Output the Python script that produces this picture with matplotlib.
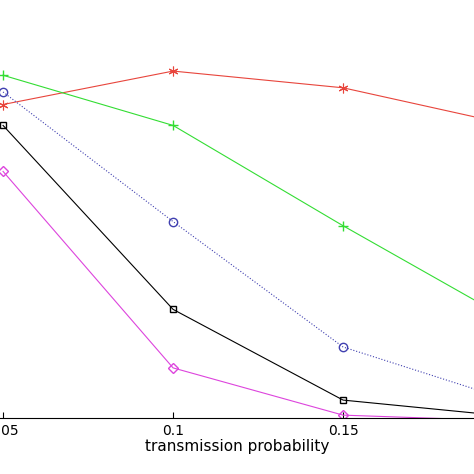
import matplotlib
matplotlib.use("Agg")
import matplotlib.pyplot as plt

# transmission probability
p = [0.05, 0.1, 0.15, 0.2]

# series values (arbitrary units)
red_star = [0.75, 0.83, 0.79, 0.70]
green_plus = [0.82, 0.70, 0.46, 0.23]
blue_circle = [0.78, 0.47, 0.17, 0.04]
black_square = [0.70, 0.26, 0.043, 0.003]
magenta_diamond = [0.59, 0.12, 0.007, -0.007]

fig = plt.figure(figsize=(4.74, 4.74), dpi=100)
ax = fig.add_axes([0, 0.118, 1, 0.882])

ax.plot(p, red_star, color="#e8453c", marker=(6, 2, 0), lw=0.8, ms=7, mew=0.8)
ax.plot(p, green_plus, color="#33dd33", marker="+", lw=0.8, ms=7)
ax.plot(p, blue_circle, color="#4040b0", marker="o", lw=0.8, ms=6, mfc="none", ls=":")
ax.plot(p, black_square, color="black", marker="s", lw=0.8, ms=5, mfc="none")
ax.plot(p, magenta_diamond, color="#dd44dd", marker="D", lw=0.8, ms=5, mfc="none")

ax.set_xlim(0.0491, 0.1885)
ax.set_ylim(0, 1)
ax.set_xticks([0.05, 0.1, 0.15])
ax.set_xticklabels(["0.05", "0.1", "0.15"])
ax.set_yticks([])
for s in ["top", "left", "right"]:
    ax.spines[s].set_visible(False)
ax.tick_params(axis="x", direction="in", length=4, labelsize=10, pad=4)
ax.set_xlabel("transmission probability", fontsize=11, labelpad=1)

fig.savefig("out.png", dpi=100)
